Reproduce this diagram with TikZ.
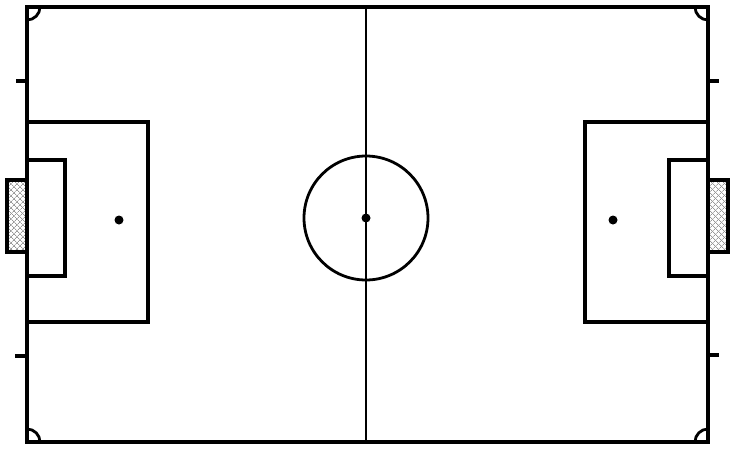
\documentclass[tikz,border=0pt]{standalone}
\usetikzlibrary{patterns.meta}
\begin{document}
\begin{tikzpicture}[x=1pt,y=-1pt,
  thick line/.style={line width=4.2pt, line join=miter},
  thin line/.style={line width=2.8pt},
  hatchA/.style={pattern={Lines[angle=45,distance=4pt,line width=0.7pt]}, pattern color=gray!80},
  hatchB/.style={pattern={Lines[angle=-45,distance=4pt,line width=0.7pt]}, pattern color=gray!80}]
\useasboundingbox (0,0) rectangle (736,453);
% goals
\fill[hatchA] (7,180) rectangle (27,252);
\fill[hatchB] (7,180) rectangle (27,252);
\draw[thick line] (27,180) -- (7,180) -- (7,252) -- (27,252);
\fill[hatchA] (708,180) rectangle (728,252);
\fill[hatchB] (708,180) rectangle (728,252);
\draw[thick line] (708,180) -- (728,180) -- (728,252) -- (708,252);
% outer field
\draw[thick line] (27,7) rectangle (708,442);
% corner arcs
\draw[thin line] (27,20) arc[start angle=90, end angle=0, radius=13];
\draw[thin line] (695,7) arc[start angle=180, end angle=90, radius=13];
\draw[thin line] (40,442) arc[start angle=0, end angle=-90, radius=13];
\draw[thin line] (708,429) arc[start angle=-90, end angle=-180, radius=13];
% ticks
\draw[thick line] (16,81) -- (27,81);
\draw[thick line] (15,356) -- (27,356);
\draw[thick line] (708,81) -- (719,81);
\draw[thick line] (708,355) -- (719,355);
% halfway line and circle
\draw[thin line] (366,7) -- (366,442);
\draw[thin line] (366,218) circle[radius=62];
\fill (366,218) circle[radius=4.5];
% left boxes
\draw[thick line] (27,122) -- (148,122) -- (148,322) -- (27,322);
\draw[thick line] (27,160) -- (65,160) -- (65,276) -- (27,276);
\fill (119,220) circle[radius=4.5];
% right boxes
\draw[thick line] (708,122) -- (585,122) -- (585,322) -- (708,322);
\draw[thick line] (708,160) -- (669,160) -- (669,276) -- (708,276);
\fill (613,220) circle[radius=4.5];
\end{tikzpicture}
\end{document}
